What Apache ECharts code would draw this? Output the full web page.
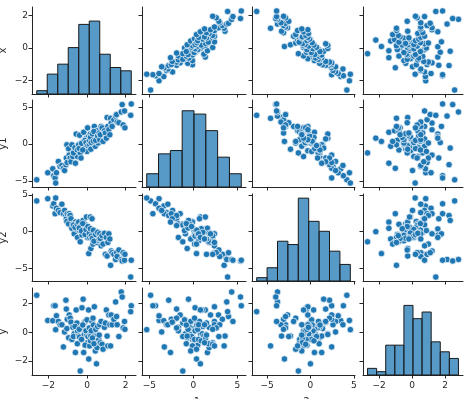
<!DOCTYPE html>
<html>
<head>
<meta charset="utf-8">
<script src="https://cdn.jsdelivr.net/npm/echarts@6/dist/echarts.min.js"></script>
<style>
html, body { margin: 0; padding: 0; background: #fff; }
#main { width: 474px; height: 399px; }
</style>
</head>
<body>
<div id="main"></div>
<script>
// pairplot variables, in grid order
var varNames = ['x', 'y1', 'y2', 'y'];

var xVals = [-2.6, -2.03, -1.77, -1.72, -1.65, -1.62, -1.58, -1.48, -1.39, -1.3,
  -1.22, -1.16, -1.09, -1.07, -1.04, -1.02, -0.95, -0.92, -0.87, -0.83,
  -0.78, -0.73, -0.66, -0.6, -0.56, -0.52, -0.49, -0.7, -0.62, -0.5,
  -0.43, -0.38, -0.35, -0.31, -0.26, -0.2, -0.17, -0.15, -0.14, -0.09,
  -0.03, 0, 0.03, 0.09, 0.08, -0.4, -0.28, -0.22, -0.1, -0.05,
  0.05, 0.14, 0.17, 0.2, 0.26, 0.31, 0.38, 0.4, 0.43, 0.49,
  0.5, 0.52, 0.57, 0.61, 0.12, 0.18, 0.22, 0.28, 0.33, 0.36,
  0.45, 0.55, 0.63, 0.66, 0.69, 0.73, 0.78, 0.83, 0.9, 0.95,
  1.0, 1.04, 1.08, 1.13, 1.18, 1.22, 1.25, 1.3, 1.39, 1.48,
  1.53, 1.56, 1.65, 1.77, 1.82, 1.87, 1.94, 1.96, 2.29, 2.26];

var y1Vals = [-4.86, -3.9, -3.36, -4.3, -4.6, -5.3, -3.9, -2.36, -3.05, -2.9,
  -3.3, -3.6, -2.8, -1.9, -0.1, -2.5, -0.64, -1.5, -1.9, -2.4,
  -0.1, -1.7, -0.9, -2.6, 1.36, -1.2, -1.7, -1.2, -0.5, -0.8,
  -0.1, 1.2, -1.2, -1.9, 0.2, -0.55, 1.6, 0.45, -0.3, -0.3,
  0.8, -1.0, 2.2, 0.36, 1.0, -0.6, 0.1, -0.8, 0.5, 0.2,
  -0.2, -0.1, 1.36, -0.7, 0.7, 0.14, 2.4, 1.0, -0.3, 0.8,
  1.2, 1.8, 0.14, 0.6, 0.5, 0.9, 0.2, 1.4, 0.4, 1.7,
  0.5, 1.1, 1.5, 0.6, 1.27, 2.4, 2.2, 0.36, 1.8, 1.5,
  0.8, 3.6, 2.4, 1.95, 1.27, 3.5, 2.86, 2.4, 3.3, 3.8,
  4.0, 3.0, 2.9, 4.36, 5.36, 2.6, 4.5, 2.2, 5.45, 3.9];

var y2Vals = [4.2, 4.5, 3.5, 3.8, 2.45, 4.6, 3.2, 2.9, 2.6, 3.75,
  2.45, 2.9, 2.2, 1.76, 1.4, 2.45, 1.06, 2.45, 2.2, 1.76,
  0.46, 1.06, -0.3, 1.3, 0.37, 1.06, -0.79, 0.9, 0.6, 1.0,
  1.3, 0.14, -1.39, 0.83, -0.46, 1.53, 0.46, -0.09, 0.6, 0.93,
  2.0, 0.14, -0.8, -3.0, -0.5, 0.5, 0.1, 1.1, -0.4, 0.3,
  0.7, -0.79, 2.0, -2.3, 1.76, -1.7, -0.3, -0.2, -1.0, 0,
  -0.8, -1.48, -0.5, -1.25, -0.2, 0.4, -0.6, -0.9, 0.2, -1.3,
  -0.4, -0.1, -1.0, -0.3, -0.93, -1.94, -0.55, -1.7, -0.23, -3.1,
  -0.79, -3.33, -1.48, -0.3, -1.0, -4.6, -2.64, -2.87, -3.1, -3.8,
  -2.87, -3.4, -2.5, -3.8, -4.0, -2.87, -3.9, -3.1, -3.9, -6.2];

var yVals = [2.57, 0.82, 0.8, 1.84, 1.84, 0.18, 1.14, 0.75, 0.52, 0.52,
  -1.02, 0.02, 2.23, 1.61, 0.25, 0.9, -0.39, 1.2, 0.98, 0.7,
  -0.5, 0.34, -0.1, -1.41, 1.55, 0.64, 0.1, -0.3, 0.4, -0.8,
  -0.27, -0.34, -2.7, 0.3, 1.7, 2.3, -1.41, 0.64, -0.16, 0.75,
  -0.11, 0.86, -0.73, -1.86, 1.55, 0.2, -0.5, 0.5, -0.9, 0.1,
  -0.3, -0.95, -0.16, -0.27, 0.75, 0.98, 1.77, -0.11, -1.3, -2.2,
  -0.27, -1.07, -0.5, -0.5, 0.3, -0.6, 0.1, -0.4, 0.5, -0.8,
  0.2, 0.4, -0.2, 0.52, -0.73, 0.75, -0.84, -1.18, 0.34, 0.64,
  1.55, -0.27, -0.95, 1.2, 0.52, -0.95, 1.2, 0.52, 0.9, 2.11,
  1.09, 0.52, -0.3, 2.8, 2.45, 0.3, 0.75, 0.2, 1.84, 1.43];

// histogram counts
var xCounts = [1, 6, 9, 14, 21, 22, 12, 8, 7];
var y1Counts = [4, 10, 11, 23, 22, 17, 9, 4];
var y2Counts = [1, 4, 12, 11, 25, 18, 15, 9, 5];
var yCounts = [2, 1, 9, 9, 21, 17, 19, 10, 7, 5];

var tickVals = [[-2, 0, 2], [-5, 0, 5], [-5, 0, 5], [-2, 0, 2]];

var allVals = [xVals, y1Vals, y2Vals, yVals];
var allCounts = [xCounts, y1Counts, y2Counts, yCounts];

var cols = [[32, 136], [142, 246], [252, 355], [363, 463]];
var rows = [[7, 94], [100, 187], [194, 281], [288, 375]];

var ink = '#262626';
var font = 'DejaVu Sans';

function lim(v) {
  var lo = Math.min.apply(null, v), hi = Math.max.apply(null, v);
  var m = (hi - lo) * 0.05;
  return [lo - m, hi + m];
}
var lims = allVals.map(lim);

function fmt(v) {
  return (v < 0 ? '\u2212' : '') + Math.abs(v);
}

var countMax = 0;
allCounts.forEach(function (c) { countMax = Math.max(countMax, Math.max.apply(null, c)); });

var grids = [], xAxes = [], yAxes = [], series = [];

for (var r = 0; r < 4; r++) {
  for (var c = 0; c < 4; c++) {
    var g = r * 4 + c;
    grids.push({
      left: cols[c][0], top: rows[r][0],
      width: cols[c][1] - cols[c][0], height: rows[r][1] - rows[r][0],
      outerBoundsMode: 'none', containLabel: false
    });
    xAxes.push({
      type: 'value', gridIndex: g, min: lims[c][0], max: lims[c][1],
      axisLine: { show: true, onZero: false, lineStyle: { color: ink, width: 1 } },
      axisTick: { show: true, length: 3.5, lineStyle: { color: ink }, customValues: tickVals[c] },
      axisLabel: {
        show: r === 3, customValues: tickVals[c], formatter: fmt, margin: 6,
        color: ink, fontSize: 9, fontFamily: font
      },
      splitLine: { show: false },
      name: r === 3 ? varNames[c] : '', nameLocation: 'middle', nameGap: 22,
      nameTextStyle: { color: ink, fontSize: 10, fontFamily: font }
    });
    yAxes.push({
      type: 'value', gridIndex: g, min: lims[r][0], max: lims[r][1],
      axisLine: { show: true, onZero: false, lineStyle: { color: ink, width: 1 } },
      axisTick: { show: true, length: 3.5, lineStyle: { color: ink }, customValues: tickVals[r] },
      axisLabel: {
        show: c === 0, customValues: tickVals[r], formatter: fmt, margin: 4,
        color: ink, fontSize: 9, fontFamily: font
      },
      splitLine: { show: false },
      name: c === 0 ? varNames[r] : '', nameLocation: 'middle', nameRotate: 90, nameGap: 24,
      nameTextStyle: { color: ink, fontSize: 10, fontFamily: font }
    });
    if (r !== c) {
      var pts = [];
      for (var i = 0; i < xVals.length; i++) pts.push([allVals[c][i], allVals[r][i]]);
      series.push({
        type: 'scatter', xAxisIndex: g, yAxisIndex: g, data: pts,
        symbolSize: 6.5,
        itemStyle: { color: '#1f77b4', borderColor: '#ffffff', borderWidth: 0.7, opacity: 1 },
        silent: true
      });
    }
  }
}

// hidden count axes for the diagonal histograms (shared scale)
for (var d = 0; d < 4; d++) {
  yAxes.push({
    type: 'value', gridIndex: d * 5, min: 0, max: countMax * 1.05, show: false,
    splitLine: { show: false }
  });
  var v = allVals[d], cnt = allCounts[d];
  var lo = Math.min.apply(null, v), hi = Math.max.apply(null, v);
  var w = (hi - lo) / cnt.length;
  var bins = cnt.map(function (n, k) { return [lo + k * w, lo + (k + 1) * w, n]; });
  series.push({
    type: 'custom', xAxisIndex: d * 5, yAxisIndex: 16 + d, data: bins,
    encode: { x: [0, 1], y: 2 },
    silent: true,
    renderItem: function (params, api) {
      var a = api.coord([api.value(0), 0]);
      var b = api.coord([api.value(1), api.value(2)]);
      return {
        type: 'rect',
        shape: { x: a[0], y: b[1], width: b[0] - a[0], height: a[1] - b[1] },
        style: { fill: 'rgba(31,119,180,0.75)', stroke: '#1a1a1a', lineWidth: 1 }
      };
    }
  });
}

var myChart = echarts.init(document.getElementById('main'));
myChart.setOption({
  animation: false,
  backgroundColor: '#ffffff',
  grid: grids,
  xAxis: xAxes,
  yAxis: yAxes,
  series: series
});
</script>
</body>
</html>
